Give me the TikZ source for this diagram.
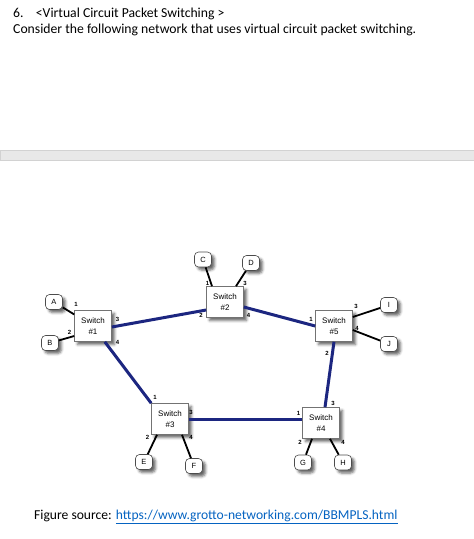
\documentclass[tikz,border=0pt]{standalone}
\usepackage{fontspec}
\setmainfont{Carlito}
\newfontfamily\swfont{Liberation Sans}
\usepackage{xcolor}
\usetikzlibrary{shadows.blur}
\definecolor{linkblue}{RGB}{28,38,128}
\definecolor{urlblue}{RGB}{5,99,193}

\begin{document}
\begin{tikzpicture}[x=1pt, y=-1pt,
    switch/.style={draw=black!55, fill=white, line width=0.6pt, minimum width=37pt, minimum height=31pt,
        inner sep=0pt, align=center, font=\swfont\fontsize{8}{10.5}\selectfont,
        blur shadow={shadow xshift=3pt, shadow yshift=-3pt, shadow blur radius=2.5pt, shadow opacity=60}},
    host/.style={draw=black!70, fill=white, rounded corners=4pt, line width=0.6pt, minimum width=17pt,
        minimum height=15pt, inner sep=0pt, font=\swfont\fontsize{7.5}{8}\selectfont,
        blur shadow={shadow xshift=3pt, shadow yshift=-3pt, shadow blur radius=2.5pt, shadow opacity=60}},
    port/.style={font=\swfont\bfseries\fontsize{6}{6}\selectfont, inner sep=0pt},
    trunk/.style={draw=linkblue, line width=3pt},
    access/.style={draw=black, line width=1.8pt}]
    \useasboundingbox (0,0) rectangle (474,539);

    % header text and rule
    \node[anchor=base west, inner sep=0pt, font=\fontsize{13.7}{16}\selectfont] (title) at (13,17)
        {6.\hspace{0.9em}<Virtual Circuit Packet Switching >};
    \node[anchor=base west, inner sep=0pt, font=\fontsize{13.7}{16}\selectfont] (question) at (13,33)
        {Consider the following network that uses virtual circuit packet switching.};
    \draw[fill=gray!18, draw=gray!35] (0,150) rectangle (474,160.5);

    % switches
    \node[switch] (sw1) at (93,326) {Switch\\\#1};
    \node[switch] (sw2) at (225,302) {Switch\\\#2};
    \node[switch] (sw5) at (334,326) {Switch\\\#5};
    \node[switch] (sw3) at (170,419) {Switch\\\#3};
    \node[switch] (sw4) at (321,423) {Switch\\\#4};

    % end systems
    \node[host] (A) at (54,302) {A};
    \node[host] (B) at (50,343) {B};
    \node[host] (C) at (203,259.5) {C};
    \node[host] (D) at (251,263) {D};
    \node[host] (I) at (389,305) {I};
    \node[host] (J) at (389,344) {J};
    \node[host] (E) at (144,462) {E};
    \node[host] (F) at (194,466) {F};
    \node[host] (G) at (303,462.5) {G};
    \node[host] (H) at (343,462.5) {H};

    % trunk links
    \draw[trunk] ([yshift=-1pt]sw1.east) -- ([yshift=-8pt]sw2.west);
    \draw[trunk] ([yshift=-5pt]sw2.east) -- (sw5.west);
    \draw[trunk] (sw5.south) -- ([xshift=4pt]sw4.north);
    \draw[trunk] ([xshift=-7pt]sw1.south east) -- (sw3.north west);
    \draw[trunk] (sw3.east) -- (sw3.east -| sw4.west);

    % access links
    \draw[access] (A) -- (sw1);
    \draw[access] (B) -- ([yshift=-10pt]sw1.west);
    \draw[access] (C) -- ([xshift=-13pt]sw2.north);
    \draw[access] (D) -- ([xshift=11pt]sw2.north);
    \draw[access] (I) -- ([yshift=9pt]sw5.east);
    \draw[access] (J) -- ([yshift=-4pt]sw5.east);
    \draw[access] (E) -- ([xshift=-13pt]sw3.south);
    \draw[access] (F) -- ([xshift=12pt]sw3.south);
    \draw[access] (G) -- ([xshift=-9pt]sw4.south);
    \draw[access] (H) -- ([xshift=9pt]sw4.south);

    % port numbers
    \foreach \px/\py/\pn [count=\k] in {76/304/1, 69.5/332/2, 117.5/319.5/3, 117.5/342.5/4,
        207.5/283/1, 201/315/2, 245/283/3, 248.5/315/4,
        311/319.5/1, 327/353.5/2, 356/306/3, 357/328.5/4,
        155/397/1, 147.5/437.5/2, 191/412/3, 191/437.5/4,
        298.5/413/1, 300/442/2, 333/403/3, 343/442/4}
        \node[port] (port\k) at (\px,\py) {\pn};

    % footer
    \node[anchor=base west, inner sep=0pt, font=\fontsize{13.6}{16}\selectfont] (source) at (34,519)
        {Figure source: \textcolor{urlblue}{\underline{https://www.grotto-networking.com/BBMPLS.html}}};
\end{tikzpicture}
\end{document}
